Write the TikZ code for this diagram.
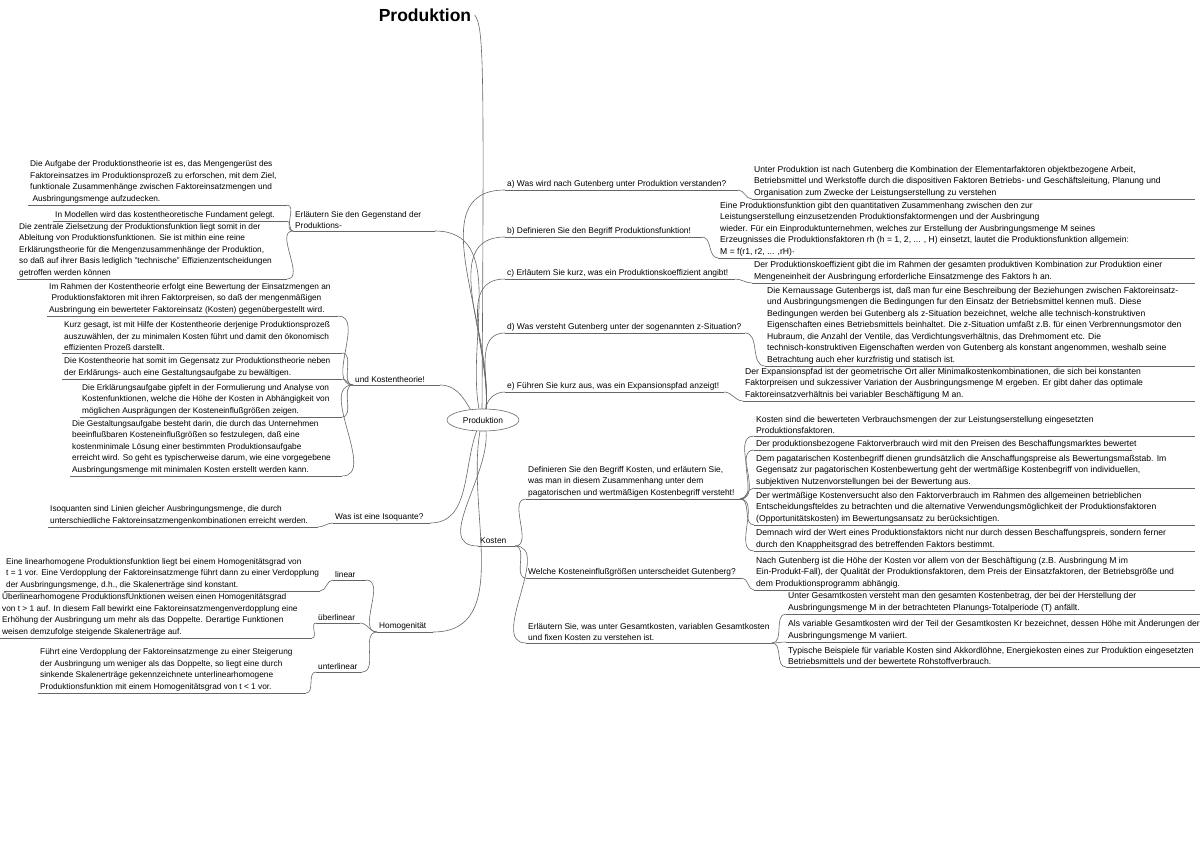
\documentclass[tikz,border=0pt]{standalone}
\usepackage{fontspec}
\setmainfont{Liberation Sans}
\usetikzlibrary{shapes.geometric}
\tikzset{mm/.style={inner xsep=2pt,inner ysep=2pt,align=left,font=\fontsize{8.4}{11.5}\selectfont}, big/.style={font=\fontsize{8.6}{11.5}\selectfont}, lf/.style={font=\fontsize{8.3}{11.4}\selectfont}, ln/.style={draw=black!60,line width=0.6pt}}
\newcommand\mmitem[6][]{\node[mm,#1,anchor=south west] (#2) at (#3,#4) {#6}; \draw[ln] (#2.south west) -- (#5,#4) coordinate (#2-e);}
\begin{document}
\begin{tikzpicture}[x=1pt,y=-1pt]
\useasboundingbox (0,0) rectangle (1200,848);
\node[font=\fontsize{17.5}{20}\selectfont\bfseries] (T) at (425,15) {Produktion};
\node[ellipse,draw=black!60,line width=0.6pt,minimum width=72pt,minimum height=22pt,inner sep=1pt,font=\fontsize{8.4}{10}\selectfont] (C) at (483,420) {Produktion};
\draw[ln] (C.95) .. controls (484,60) and (484,28) .. (T.east);
\mmitem{a}{505}{190}{738}{a) Was wird nach Gutenberg unter Produktion verstanden?}
\mmitem{b}{505}{237}{702}{b) Definieren Sie den Begriff Produktionsfunktion!}
\mmitem{c}{505}{279}{735}{c) Erläutern Sie kurz, was ein Produktionskoeffizient angibt!}
\mmitem{d}{505}{333}{745}{d) Was versteht Gutenberg unter der sogenannten z-Situation?}
\mmitem{e}{505}{392}{724}{e) Führen Sie kurz aus, was ein Expansionspfad anzeigt!}
\mmitem{K}{478}{546}{515}{Kosten}
\mmitem{KD}{526}{499}{740}{Definieren Sie den Begriff Kosten, und erläutern Sie,\\was man in diesem Zusammenhang unter dem\\pagatorischen und wertmäßigen Kostenbegriff versteht!}
\mmitem{KW}{526}{578}{742}{Welche Kosteneinflußgrößen unterscheidet Gutenberg?}
\mmitem{KE}{526}{643}{772}{Erläutern Sie, was unter Gesamtkosten, variablen Gesamtkosten\\und fixen Kosten zu verstehen ist.}
\mmitem[big]{ad}{752}{199}{1195}{Unter Produktion ist nach Gutenberg die Kombination der Elementarfaktoren objektbezogene Arbeit,\\Betriebsmittel und Werkstoffe durch die dispositiven Faktoren Betriebs- und Geschäftsleitung, Planung und\\Organisation zum Zwecke der Leistungserstellung zu verstehen}
\mmitem[big]{bd}{718}{258}{1195}{Eine Produktionsfunktion gibt den quantitativen Zusammenhang zwischen den zur\\Leistungserstellung einzusetzenden Produktionsfaktormengen und der Ausbringung\\wieder. Für ein Einproduktunternehmen, welches zur Erstellung der Ausbringungsmenge M seines\\Erzeugnisses die Produktionsfaktoren rh (h = 1, 2, ... , H) einsetzt, lautet die Produktionsfunktion allgemein:\\M = f(r1, r2, ... ,rH)·}
\mmitem[big]{cd}{752}{283}{1195}{Der Produktionskoeffizient gibt die im Rahmen der gesamten produktiven Kombination zur Produktion einer\\Mengeneinheit der Ausbringung erforderliche Einsatzmenge des Faktors h an.}
\mmitem[big]{dd}{765}{366}{1195}{Die Kernaussage Gutenbergs ist, daß man fur eine Beschreibung der Beziehungen zwischen Faktoreinsatz-\\und Ausbringungsmengen die Bedingungen fur den Einsatz der Betriebsmittel kennen muß. Diese\\Bedingungen werden bei Gutenberg als z-Situation bezeichnet, welche alle technisch-konstruktiven\\Eigenschaften eines Betriebsmittels beinhaltet. Die z-Situation umfaßt z.B. für einen Verbrennungsmotor den\\Hubraum, die Anzahl der Ventile, das Verdichtungsverhältnis, das Drehmoment etc. Die\\technisch-konstruktiven Eigenschaften werden von Gutenberg als konstant angenommen, weshalb seine\\Betrachtung auch eher kurzfristig und statisch ist.}
\mmitem[big]{ed}{743}{401}{1195}{Der Expansionspfad ist der geometrische Ort aller Minimalkostenkombinationen, die sich bei konstanten\\Faktorpreisen und sukzessiver Variation der Ausbringungsmenge M ergeben. Er gibt daher das optimale\\Faktoreinsatzverhältnis bei variabler Beschäftigung M an.}
\mmitem[big]{k1}{754}{436}{1195}{Kosten sind die bewerteten Verbrauchsmengen der zur Leistungserstellung eingesetzten\\Produktionsfaktoren.}
\mmitem[big]{k2}{754}{450}{1132}{Der produktionsbezogene Faktorverbrauch wird mit den Preisen des Beschaffungsmarktes bewertet}
\mmitem[big]{k3}{754}{488}{1195}{Dem pagatarischen Kostenbegriff dienen grundsätzlich die Anschaffungspreise als Bewertungsmaßstab. Im\\Gegensatz zur pagatorischen Kostenbewertung geht der wertmäßige Kostenbegriff von individuellen,\\subjektiven Nutzenvorstellungen bei der Bewertung aus.}
\mmitem[big]{k4}{754}{525}{1195}{Der wertmäßige Kostenversucht also den Faktorverbrauch im Rahmen des allgemeinen betrieblichen\\Entscheidungsfteldes zu betrachten und die alternative Verwendungsmöglichkeit der Produktionsfaktoren\\(Opportunitätskosten) im Bewertungsansatz zu berücksichtigen.}
\mmitem[big]{k5}{754}{551}{1195}{Demnach wird der Wert eines Produktionsfaktors nicht nur durch dessen Beschaffungspreis, sondern ferner\\durch den Knappheitsgrad des betreffenden Faktors bestimmt.}
\mmitem[big]{kw}{754}{590}{1195}{Nach Gutenberg ist die Höhe der Kosten vor allem von der Beschäftigung (z.B. Ausbringung M im\\Ein-Produkt-Fall), der Qualität der Produktionsfaktoren, dem Preis der Einsatzfaktoren, der Betriebsgröße und\\dem Produktionsprogramm abhängig.}
\mmitem[big]{g1}{786}{614}{1200}{Unter Gesamtkosten versteht man den gesamten Kostenbetrag, der bei der Herstellung der\\Ausbringungsmenge M in der betrachteten Planungs-Totalperiode (T) anfällt.}
\mmitem[big]{g2}{786}{642}{1200}{Als variable Gesamtkosten wird der Teil der Gesamtkosten Kr bezeichnet, dessen Höhe mit Änderungen der\\Ausbringungsmenge M variiert.}
\mmitem[big]{g3}{786}{667}{1200}{Typische Beispiele für variable Kosten sind Akkordlöhne, Energiekosten eines zur Produktion eingesetzten\\Betriebsmittels und der bewertete Rohstoffverbrauch.}
\mmitem[lf]{EG}{293}{231}{435}{Erläutern Sie den Gegenstand der\\Produktions-}
\mmitem[lf]{A1}{28}{205}{287}{Die Aufgabe der Produktionstheorie ist es, das Mengengerüst des\\Faktoreinsatzes im Produktionsprozeß zu erforschen, mit dem Ziel,\\funktionale Zusammenhänge zwischen Faktoreinsatzmengen und\\\ Ausbringungsmenge aufzudecken.}
\mmitem[lf]{A2}{53}{221}{287}{In Modellen wird das kostentheoretische Fundament gelegt.}
\mmitem[lf]{A3}{17}{279}{287}{Die zentrale Zielsetzung der Produktionsfunktion liegt somit in der\\Ableitung von Produktionsfunktionen. Sie ist mithin eine reine\\Erklärungstheorie für die Mengenzusammenhänge der Produktion,\\so daß auf ihrer Basis lediglich "technische" Effizienzentscheidungen\\getroffen werden können}
\mmitem[lf]{UK}{353}{385}{440}{und Kostentheorie!}
\mmitem[lf]{K1}{47}{316}{338}{Im Rahmen der Kostentheorie erfolgt eine Bewertung der Einsatzmengen an\\\ Produktionsfaktoren mit ihren Faktorpreisen, so daß der mengenmäßigen\\Ausbringung ein bewerteter Faktoreinsatz (Kosten) gegenübergestellt wird.}
\mmitem[lf]{K2}{62}{353}{342}{Kurz gesagt, ist mit Hilfe der Kostentheorie derjenige Produktionsprozeß\\auszuwählen, der zu minimalen Kosten führt und damit den ökonomisch\\effizienten Prozeß darstellt.}
\mmitem[lf]{K3}{62}{379}{342}{Die Kostentheorie hat somit im Gegensatz zur Produktionstheorie neben\\der Erklärungs- auch eine Gestaltungsaufgabe zu bewältigen.}
\mmitem[lf]{K4}{80}{417}{342}{Die Erklärungsaufgabe gipfelt in der Formulierung und Analyse von\\Kostenfunktionen, welche die Höhe der Kosten in Abhängigkeit von\\möglichen Ausprägungen der Kosteneinflußgrößen zeigen.}
\mmitem[lf]{K5}{70}{476}{342}{Die Gestaltungsaufgabe besteht darin, die durch das Unternehmen\\beeinflußbaren Kosteneinflußgrößen so festzulegen, daß eine\\kostenminimale Lösung einer bestimmten Produktionsaufgabe\\erreicht wird. So geht es typischerweise darum, wie eine vorgegebene\\Ausbringungsmenge mit minimalen Kosten erstellt werden kann.}
\mmitem[lf]{IS}{333}{523}{430}{Was ist eine Isoquante?}
\mmitem[lf]{I1}{48}{527}{318}{Isoquanten sind Linien gleicher Ausbringungsmenge, die durch\\unterschiedliche Faktoreinsatzmengenkombinationen erreicht werden.}
\mmitem[lf]{HO}{377}{632}{433}{Homogenität}
\mmitem[lf]{HL}{333}{580}{366}{linear}
\mmitem[lf]{HU}{316}{623}{360}{überlinear}
\mmitem[lf]{HN}{316}{672}{362}{unterlinear}
\mmitem[lf]{L1}{4}{591}{320}{Eine linearhomogene Produktionsfunktion liegt bei einem Homogenitätsgrad von\\t = 1 vor. Eine Verdopplung der Faktoreinsatzmenge führt dann zu einer Verdopplung\\der Ausbringungsmenge, d.h., die Skalenerträge sind konstant.}
\mmitem[lf]{U1}{0}{638}{312}{Überlinearhomogene ProduktionsfUnktionen weisen einen Homogenitätsgrad\\von t > 1 auf. In diesem Fall bewirkt eine Faktoreinsatzmengenverdopplung eine\\Erhöhung der Ausbringung um mehr als das Doppelte. Derartige Funktionen\\weisen demzufolge steigende Skalenerträge auf.}
\mmitem[lf]{N1}{38}{693}{306}{Führt eine Verdopplung der Faktoreinsatzmenge zu einer Steigerung\\der Ausbringung um weniger als das Doppelte, so liegt eine durch\\sinkende Skalenerträge gekennzeichnete unterlinearhomogene\\Produktionsfunktion mit einem Homogenitätsgrad von t < 1 vor.}
\foreach \n in {a,b,c,d,e} \draw[ln] (C.75) to[out=85,in=180] (\n.south west);
\draw[ln] (C.-75) to[out=-85,in=180] (K.south west);
\draw[ln] (EG-e) to[out=0,in=100] (C.110);
\draw[ln] (UK-e) to[out=0,in=120] (C.140);
\draw[ln] (IS-e) to[out=0,in=-110] (C.-120);
\draw[ln] (HO-e) to[out=0,in=-100] (C.-105);
\draw[ln] (a-e) to[out=0,in=180] (ad.south west);
\draw[ln] (b-e) to[out=0,in=180] (bd.south west);
\draw[ln] (c-e) to[out=0,in=180] (cd.south west);
\draw[ln] (d-e) to[out=0,in=180] (dd.south west);
\draw[ln] (e-e) to[out=0,in=180] (ed.south west);
\foreach \n in {KD,KW,KE} \draw[ln] (K-e) to[out=0,in=180] (\n.south west);
\foreach \n in {k1,k2,k3,k4,k5} \draw[ln] (KD-e) to[out=0,in=180] (\n.south west);
\draw[ln] (KW-e) to[out=0,in=180] (kw.south west);
\foreach \n in {g1,g2,g3} \draw[ln] (KE-e) to[out=0,in=180] (\n.south west);
\foreach \n in {A1,A2,A3} \draw[ln] (\n-e) to[out=0,in=180] (EG.south west);
\foreach \n in {K1,K2,K3,K4,K5} \draw[ln] (\n-e) to[out=0,in=180] (UK.south west);
\draw[ln] (I1-e) to[out=0,in=180] (IS.south west);
\foreach \n in {HL,HU,HN} \draw[ln] (\n-e) to[out=0,in=180] (HO.south west);
\draw[ln] (L1-e) to[out=0,in=180] (HL.south west);
\draw[ln] (U1-e) to[out=0,in=180] (HU.south west);
\draw[ln] (N1-e) to[out=0,in=180] (HN.south west);
\end{tikzpicture}
\end{document}
